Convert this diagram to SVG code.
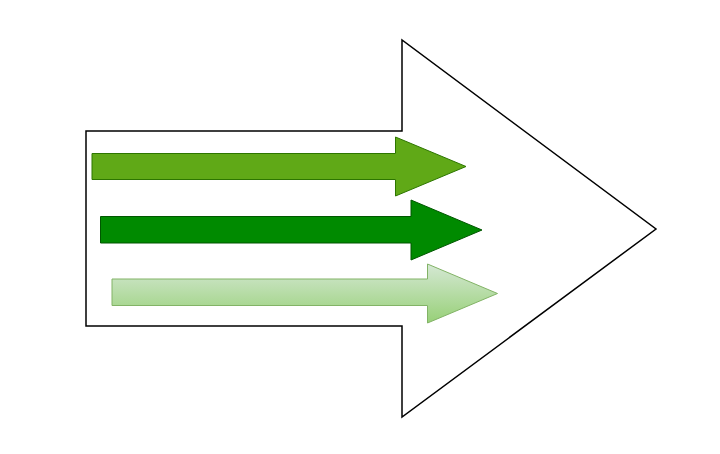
<svg xmlns="http://www.w3.org/2000/svg" width="720" height="454" viewBox="0 0 720 454">
<style>
.big{fill:#ffffff;stroke:#000000;stroke-width:1.5;stroke-linejoin:miter}
.a1{fill:#60a917;stroke:#2d7600;stroke-width:1}
.a2{fill:#008a00;stroke:#005700;stroke-width:1}
.a3{fill:url(#g3);stroke:#82b366;stroke-width:1}
</style>
<defs>
<linearGradient id="g3" x1="0" y1="0" x2="0" y2="1">
<stop offset="0" stop-color="#d5e8d4"/>
<stop offset="1" stop-color="#97d077"/>
</linearGradient>
</defs>
<rect width="720" height="454" fill="#ffffff"/>
<g id="big-arrow">
<path class="big" d="M86,131 H402 V40 L656,229 L402,417 V326 H86 Z"/>
</g>
<g id="arrow1">
<path class="a1" d="M92,153.5 H395.5 V137 L466,166.5 L395.5,196 V179.5 H92 Z"/>
</g>
<g id="arrow2">
<path class="a2" d="M100.5,216.5 H411 V200 L482,230 L411,260 V243 H100.5 Z"/>
</g>
<g id="arrow3">
<path class="a3" d="M112,279 H427.5 V264 L497.5,293.5 L427.5,323 V305.5 H112 Z"/>
</g>
</svg>
